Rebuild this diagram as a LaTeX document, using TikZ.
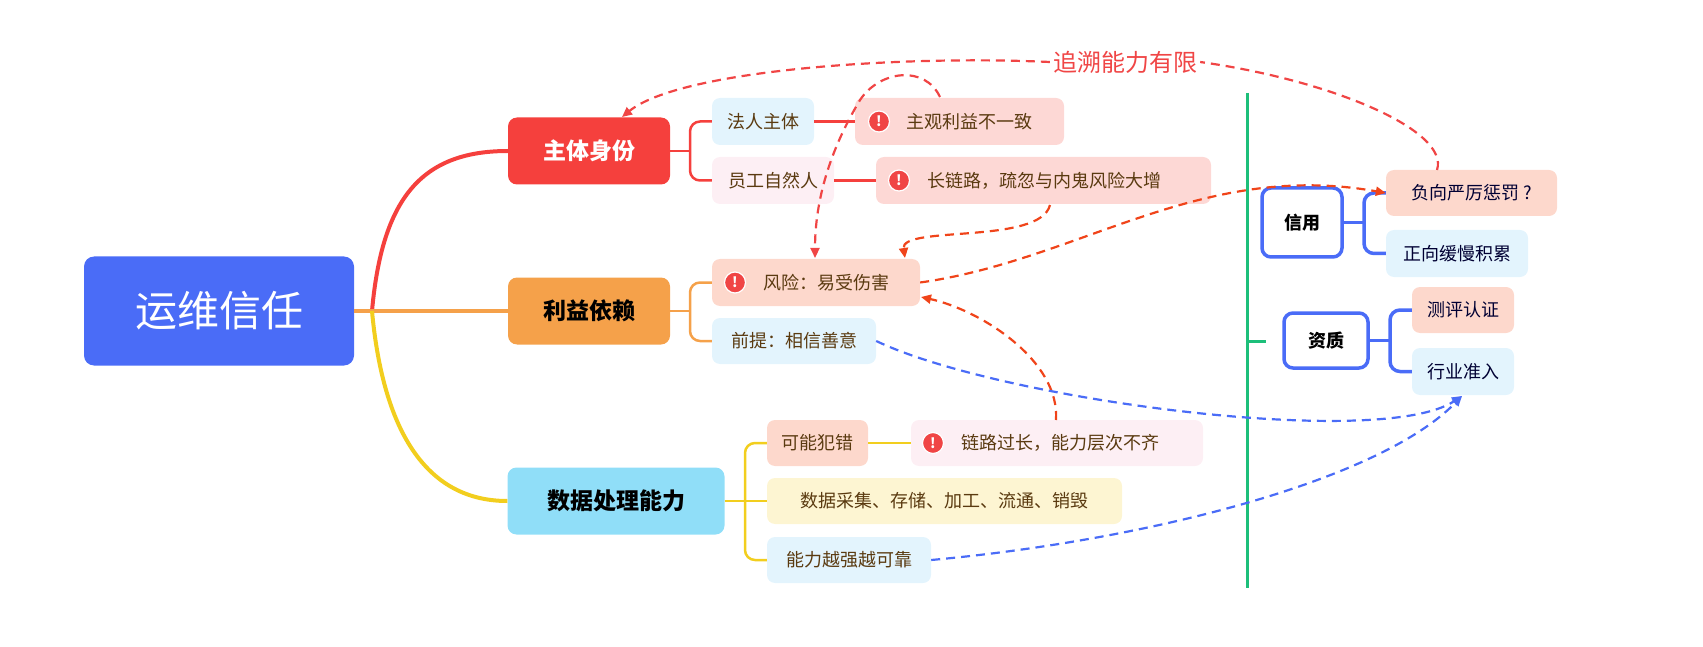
\documentclass[tikz,border=0pt]{standalone}
\usepackage{fontspec}
\setmainfont{Noto Sans CJK SC}
\usetikzlibrary{arrows.meta}
\definecolor{cblue}{HTML}{4A6CF7}
\definecolor{cred}{HTML}{F5403D}
\definecolor{corange}{HTML}{F5A14A}
\definecolor{cyel}{HTML}{F2CE1E}
\definecolor{csky}{HTML}{90DEF8}
\definecolor{lblue}{HTML}{E3F4FD}
\definecolor{lpink}{HTML}{FDEFF4}
\definecolor{lred}{HTML}{FDD8D5}
\definecolor{peach}{HTML}{FDD8CC}
\definecolor{lyel}{HTML}{FDF5D2}
\definecolor{cgreen}{HTML}{1DBF7A}
\definecolor{dred}{HTML}{F04545}
\definecolor{dora}{HTML}{F0441A}
\definecolor{dtext}{HTML}{5A3A10}
\tikzset{
 box/.style={rounded corners=8, inner sep=0, font=\fontsize{18}{21}\selectfont, text=dtext},
 big/.style={rounded corners=9, inner sep=0, font=\fontsize{23}{27}\selectfont\bfseries},
 ico/.style={circle, fill=dred, draw=white, line width=1.2, minimum size=21, inner sep=0, text=white, font=\fontsize{14}{14}\selectfont\bfseries},
 dsh/.style={dashed, line width=2.2, dash pattern=on 9 off 6, -{Triangle[length=10,width=9]}},
 dshn/.style={dashed, line width=2.2, dash pattern=on 9 off 6},
 lk/.style={line width=2.5, rounded corners=10},
 ibox/.style={rounded corners=9, draw=cblue, line width=3.5, fill=white, inner sep=0, font=\fontsize{18}{21}\selectfont\bfseries}
}
\begin{document}
\begin{tikzpicture}[x=1pt,y=-1pt]
\useasboundingbox (0,0) rectangle (1703,647);
% root and branches
\node[rounded corners=10, fill=cblue, minimum width=270, minimum height=109, text=white, font=\fontsize{42}{48}\selectfont] (root) at (219,311) {运维信任};
\node[big, fill=cred, text=white, minimum width=162, minimum height=67] (b1) at (589,151) {主体身份};
\node[big, fill=corange, minimum width=162, minimum height=67] (b2) at (589,311) {利益依赖};
\node[big, fill=csky, minimum width=217, minimum height=67] (b3) at (616,501) {数据处理能力};
\coordinate (r0) at (372,311);
\draw[line width=4, cred] (r0) .. controls (382,200) and (420,151) .. (b1.west);
\draw[line width=4, corange] (root.east) -- (b2.west);
\draw[line width=4, cyel] (r0) .. controls (382,420) and (420,501) .. (b3.west);
% sub nodes
\node[box, fill=lblue, minimum width=102, minimum height=47] (s1) at (763,121.5) {法人主体};
\node[box, fill=lpink, minimum width=122, minimum height=47] (s2) at (773,180.5) {员工自然人};
\node[box, fill=lred, minimum width=209, minimum height=47] (s3) at (959.5,121.5) {};
\node[ico] (i3) at (879,121.5) {!};
\node[box, anchor=west] (t3) at (906,121.5) {主观利益不一致};
\node[box, fill=lred, minimum width=335, minimum height=47] (s4) at (1043.5,180.5) {};
\node[ico] (i4) at (899,180.5) {!};
\node[box, anchor=west] (t4) at (927,180.5) {长链路，疏忽与内鬼风险大增};
\node[box, fill=peach, minimum width=208, minimum height=47] (s5) at (816,282.5) {};
\node[ico] (i5) at (735,282.5) {!};
\node[box, anchor=west] (t5) at (763,282.5) {风险：易受伤害};
\node[box, fill=lblue, minimum width=164, minimum height=46] (s6) at (794,341) {前提：相信善意};
\node[box, fill=peach, minimum width=101, minimum height=46] (s7) at (817.5,443) {可能犯错};
\node[box, fill=lpink, minimum width=292, minimum height=46] (s8) at (1057,443) {};
\node[ico] (i8) at (933,443) {!};
\node[box, anchor=west] (t8) at (961,443) {链路过长，能力层次不齐};
\node[box, fill=lyel, minimum width=355, minimum height=46] (s9) at (944.5,501) {数据采集、存储、加工、流通、销毁};
\node[box, fill=lblue, minimum width=164, minimum height=46] (s10) at (849,560) {能力越强越可靠};
% brackets
\draw[lk, cred] (b1.east) -- (690,151);
\draw[lk, cred] (s1.west) -- (690,121.5) -- (690,180.5) -- (s2.west);
\draw[line width=2.5, cred] (s1.east) -- (s3.west);
\draw[line width=2.5, cred] (s2.east) -- (s4.west);
\draw[lk, corange] (b2.east) -- (690,311);
\draw[lk, corange] (s5.west) -- (690,282.5) -- (690,341) -- (s6.west);
\draw[lk, cyel] (b3.east) -- (745,501);
\draw[lk, cyel] (s7.west) -- (745,443) -- (745,560) -- (s10.west);
\draw[line width=2.5, cyel] (745,501) -- (s9.west);
\draw[line width=2.5, cyel] (s7.east) -- (s8.west);
% right panel
\draw[line width=3, cgreen] (1247,93) -- (1247,588);
\draw[line width=3, cgreen] (1247,341) -- (1266,341);
\node[ibox, minimum width=80, minimum height=69] (x1) at (1302,222.5) {信用};
\node[box, fill=peach, text=black!80!blue, minimum width=171, minimum height=46] (x2) at (1471.5,193) {负向严厉惩罚 ?};
\node[box, fill=lblue, text=black!80!blue, minimum width=142, minimum height=47] (x3) at (1457,253.5) {正向缓慢积累};
\node[ibox, minimum width=84, minimum height=55] (x4) at (1326,340.5) {资质};
\node[box, fill=peach, text=black!80!blue, minimum width=102, minimum height=46] (x5) at (1463,310) {测评认证};
\node[box, fill=lblue, text=black!80!blue, minimum width=102, minimum height=47] (x6) at (1463,371.5) {行业准入};
\draw[lk, cblue, line width=3.5] (x1.east) -- (1364,222.5);
\draw[lk, cblue, line width=3.5] (x2.west) -- (1364,193) -- (1364,253.5) -- (x3.west);
\draw[lk, cblue, line width=3.5] (x4.east) -- (1390,340.5);
\draw[lk, cblue, line width=3.5] (x5.west) -- (1390,310) -- (1390,371.5) -- (x6.west);
% dashed arrows
\node[text=dred, fill=white, inner sep=3, font=\fontsize{24}{28}\selectfont] (lab) at (1125,62) {追溯能力有限};
\coordinate (a1) at (1437,170);
\coordinate (a1e) at (622,117);
\draw[dshn, dred] (a1) .. controls (1450,130) and (1330,80) .. (lab.east);
\draw[dsh, dred] (lab.west) .. controls (900,55) and (680,70) .. (a1e);
\draw[dsh, dred] (940,97) .. controls (925,65) and (880,70) .. (860,100) .. controls (830,150) and (815,200) .. (815,258);
\draw[dsh, dora] (1050,205) .. controls (1040,245) and (900,225) .. (905,258);
\draw[dsh, dora] (s5.east) .. controls (1080,260) and (1200,160) .. (x2.west);
\draw[dsh, dora] (1056,420) .. controls (1060,360) and (980,310) .. (921,297);
\draw[dsh, cblue] (s6.east) .. controls (1000,400) and (1380,450) .. (1462,396);
\draw[dsh, cblue] (s10.east) .. controls (1150,540) and (1380,480) .. (1462,396);
\end{tikzpicture}
\end{document}
